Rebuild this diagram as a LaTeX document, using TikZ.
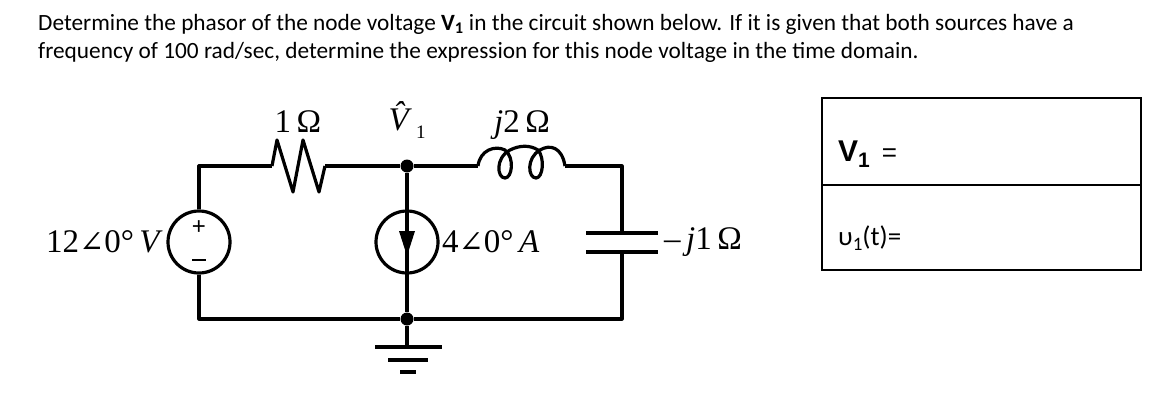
\documentclass[tikz,border=0pt]{standalone}
\usepackage{fontspec}
\setmainfont{Carlito}
\newfontfamily\tnr{Liberation Serif}
\newfontfamily\arl{Liberation Sans}
\newfontfamily\dvs{DejaVu Serif}
\usetikzlibrary{arrows.meta}
\begin{document}
\begin{tikzpicture}[x=1pt,y=-1pt,
  wire/.style={line width=3.2pt,line join=round},
  dot/.style={circle,fill=black,inner sep=0pt,minimum size=13pt},
  src/.style={circle,draw,line width=3.2pt,minimum size=62pt,inner sep=0pt},
  lbl/.style={font=\tnr\fontsize{33}{36}\selectfont,inner sep=0pt},
  title/.style={font=\fontsize{23.3}{28}\selectfont,anchor=base west,inner sep=0pt}]
\useasboundingbox (0,0) rectangle (1175,402);
\node[title] (t1) at (38,30) {Determine the phasor of the node voltage \textbf{V\textsubscript{1}} in the circuit shown below. If it is given that both sources have a};
\node[title] (t2) at (38,58) {frequency of 100 rad/sec, determine the expression for this node voltage in the time domain.};
% nodes
\coordinate (tl) at (199,166);
\coordinate (bl) at (199,319);
\coordinate (tr) at (622,166);
\coordinate (br) at (622,319);
\node[dot] (v1) at (407,166) {};
\node[dot] (gnd) at (407,319) {};
\node[src] (vs) at (199,242) {};
\node[src] (is) at (407,242) {};
\coordinate (r1) at (272,166);
\coordinate (r2) at (325,166);
\coordinate (l1) at (478,166);
\coordinate (l2) at (565,166);
\coordinate (c1) at (622,233);
\coordinate (c2) at (622,252);
\coordinate (g0) at (407,347);
% wires
\draw[wire] (vs.north) -- (tl) -- (r1);
\draw[wire] (r1) -- ++(5,-26) -- ++(16,52) -- ++(10,-52) -- ++(16,52) -- ++(6,-26) -- (r2);
\draw[wire] (r2) -- (v1) -- (l1);
\draw[wire] (l1) .. controls (480,150) and (495,145) .. (505,150)
  .. controls (515,158) and (512,178) .. (505,178) .. controls (497,178) and (495,158) .. (510,150)
  .. controls (520,145) and (530,145) .. (538,150)
  .. controls (545,158) and (543,178) .. (536,178) .. controls (528,178) and (526,158) .. (540,150)
  .. controls (550,144) and (562,147) .. (l2);
\draw[wire] (l2) -- (tr) -- (c1);
\draw[wire] (586,233) -- (658,233);
\draw[wire] (586,252) -- (658,252);
\draw[wire] (c2) -- (br) -- (gnd) -- (bl) -- (vs.south);
\draw[wire] (v1) -- (gnd);
\fill ([yshift=-14pt]is.center) -- ++(-8,-25) -- ++(16,0) -- cycle;
\draw[wire] (gnd) -- (g0);
\draw[wire] (375,347) -- (442,347);
\draw[wire] (388,360) -- (428,360);
\draw[wire] (400,372) -- (416,372);
% source signs
\node[font=\arl\fontsize{24}{24}\selectfont,inner sep=0pt] (plus) at (199,228) {+};
\draw[line width=1.8pt] (192,260) -- (206,260);
% labels
\node[lbl] (lr) at (298,122) {1\,Ω};
\node[lbl] (lv) at (407,120) {\textit{\^V}\kern-5pt\raisebox{-8pt}{\fontsize{19}{19}\selectfont 1}};
\node[lbl] (ll) at (522,125) {\textit{j}2\,Ω};
\node[lbl,anchor=east] (lvs) at (163,242) {12{\dvs\fontsize{30}{30}\selectfont∠}0°\,\textit{V}};
\node[lbl,anchor=west] (lis) at (442,242) {4{\dvs\fontsize{30}{30}\selectfont∠}0°\,\textit{A}};
\node[lbl,anchor=west] (lc) at (664,242) {–\,\textit{j}1\,Ω};
% table
\draw[line width=2.8pt] (822,98) rectangle (1141,270);
\draw[line width=2.8pt] (822,185) -- (1141,185);
\node[anchor=base west,inner sep=0pt,font=\arl\bfseries\fontsize{30}{32}\selectfont] (a1) at (838,161) {V\raisebox{-6pt}{\fontsize{21}{21}\selectfont 1}\hspace{12pt}\mdseries\fontsize{26}{28}\selectfont =};
\node[anchor=base west,inner sep=0pt,font=\fontsize{27}{30}\selectfont] (a2) at (838,245) {υ\raisebox{-5pt}{\fontsize{19}{19}\selectfont 1}(t)=};
\end{tikzpicture}
\end{document}
